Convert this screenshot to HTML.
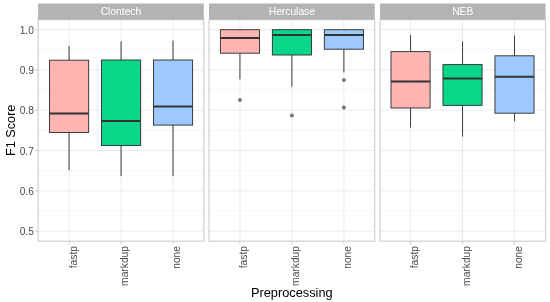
<!DOCTYPE html>
<html><head><meta charset="utf-8"><title>F1 Score by Preprocessing</title>
<style>html,body{margin:0;padding:0;background:#fff}svg text{font-family:"Liberation Sans",Arial,Helvetica,sans-serif}</style></head>
<body>
<svg width="550" height="302" viewBox="0 0 550 302" style="display:block">
<rect width="550" height="302" fill="#fff"/>
<line x1="38.1" x2="203.8" y1="210.98" y2="210.98" stroke="#DEDEDE" stroke-width="0.31"/>
<line x1="38.1" x2="203.8" y1="170.66" y2="170.66" stroke="#DEDEDE" stroke-width="0.31"/>
<line x1="38.1" x2="203.8" y1="130.32" y2="130.32" stroke="#DEDEDE" stroke-width="0.31"/>
<line x1="38.1" x2="203.8" y1="90.00" y2="90.00" stroke="#DEDEDE" stroke-width="0.31"/>
<line x1="38.1" x2="203.8" y1="49.67" y2="49.67" stroke="#DEDEDE" stroke-width="0.31"/>
<line x1="38.1" x2="203.8" y1="231.15" y2="231.15" stroke="#DEDEDE" stroke-width="0.62"/>
<line x1="38.1" x2="203.8" y1="190.82" y2="190.82" stroke="#DEDEDE" stroke-width="0.62"/>
<line x1="38.1" x2="203.8" y1="150.49" y2="150.49" stroke="#DEDEDE" stroke-width="0.62"/>
<line x1="38.1" x2="203.8" y1="110.16" y2="110.16" stroke="#DEDEDE" stroke-width="0.62"/>
<line x1="38.1" x2="203.8" y1="69.83" y2="69.83" stroke="#DEDEDE" stroke-width="0.62"/>
<line x1="38.1" x2="203.8" y1="29.50" y2="29.50" stroke="#DEDEDE" stroke-width="0.62"/>
<line x1="69.10" x2="69.10" y1="19.6" y2="241.2" stroke="#DEDEDE" stroke-width="0.62"/>
<line x1="121.07" x2="121.07" y1="19.6" y2="241.2" stroke="#DEDEDE" stroke-width="0.62"/>
<line x1="173.04" x2="173.04" y1="19.6" y2="241.2" stroke="#DEDEDE" stroke-width="0.62"/>
<line x1="69.10" x2="69.10" y1="46.1" y2="60.2" stroke="#333" stroke-width="0.95"/>
<line x1="69.10" x2="69.10" y1="132.5" y2="170.2" stroke="#333" stroke-width="0.95"/>
<rect x="49.55" y="60.2" width="39.10" height="72.30" fill="#FEAFAC" fill-opacity="0.93" stroke="#333" stroke-width="0.95"/>
<line x1="49.55" x2="88.65" y1="113.6" y2="113.6" stroke="#333" stroke-width="2.0"/>
<line x1="69.10" x2="69.10" y1="241.2" y2="244.39999999999998" stroke="#B3B3B3" stroke-width="0.62"/>
<text transform="translate(76.50,246.00) rotate(-90)" text-anchor="end" font-size="10.25" fill="#4D4D4D">fastp</text>
<line x1="121.07" x2="121.07" y1="41.4" y2="60" stroke="#333" stroke-width="0.95"/>
<line x1="121.07" x2="121.07" y1="145.5" y2="176.1" stroke="#333" stroke-width="0.95"/>
<rect x="101.52" y="60" width="39.10" height="85.50" fill="#00D686" fill-opacity="0.97" stroke="#333" stroke-width="0.95"/>
<line x1="101.52" x2="140.62" y1="121.1" y2="121.1" stroke="#333" stroke-width="2.0"/>
<line x1="121.07" x2="121.07" y1="241.2" y2="244.39999999999998" stroke="#B3B3B3" stroke-width="0.62"/>
<text transform="translate(128.47,246.00) rotate(-90)" text-anchor="end" font-size="10.25" fill="#4D4D4D">markdup</text>
<line x1="173.04" x2="173.04" y1="40.5" y2="60" stroke="#333" stroke-width="0.95"/>
<line x1="173.04" x2="173.04" y1="125.1" y2="176.1" stroke="#333" stroke-width="0.95"/>
<rect x="153.49" y="60" width="39.10" height="65.10" fill="#97C5FE" fill-opacity="0.93" stroke="#333" stroke-width="0.95"/>
<line x1="153.49" x2="192.59" y1="106.4" y2="106.4" stroke="#333" stroke-width="2.0"/>
<line x1="173.04" x2="173.04" y1="241.2" y2="244.39999999999998" stroke="#B3B3B3" stroke-width="0.62"/>
<text transform="translate(180.44,246.00) rotate(-90)" text-anchor="end" font-size="10.25" fill="#4D4D4D">none</text>
<rect x="38.10" y="19.60" width="165.70" height="221.60" fill="none" stroke="#CFCFCF" stroke-width="1.2"/>
<rect x="38.1" y="3.5" width="165.70" height="16.10" fill="#B3B3B3"/>
<text x="120.95" y="15.45" text-anchor="middle" font-size="10.25" fill="#fff">Clontech</text>
<line x1="209.0" x2="374.7" y1="210.98" y2="210.98" stroke="#DEDEDE" stroke-width="0.31"/>
<line x1="209.0" x2="374.7" y1="170.66" y2="170.66" stroke="#DEDEDE" stroke-width="0.31"/>
<line x1="209.0" x2="374.7" y1="130.32" y2="130.32" stroke="#DEDEDE" stroke-width="0.31"/>
<line x1="209.0" x2="374.7" y1="90.00" y2="90.00" stroke="#DEDEDE" stroke-width="0.31"/>
<line x1="209.0" x2="374.7" y1="49.67" y2="49.67" stroke="#DEDEDE" stroke-width="0.31"/>
<line x1="209.0" x2="374.7" y1="231.15" y2="231.15" stroke="#DEDEDE" stroke-width="0.62"/>
<line x1="209.0" x2="374.7" y1="190.82" y2="190.82" stroke="#DEDEDE" stroke-width="0.62"/>
<line x1="209.0" x2="374.7" y1="150.49" y2="150.49" stroke="#DEDEDE" stroke-width="0.62"/>
<line x1="209.0" x2="374.7" y1="110.16" y2="110.16" stroke="#DEDEDE" stroke-width="0.62"/>
<line x1="209.0" x2="374.7" y1="69.83" y2="69.83" stroke="#DEDEDE" stroke-width="0.62"/>
<line x1="209.0" x2="374.7" y1="29.50" y2="29.50" stroke="#DEDEDE" stroke-width="0.62"/>
<line x1="239.95" x2="239.95" y1="19.6" y2="241.2" stroke="#DEDEDE" stroke-width="0.62"/>
<line x1="291.92" x2="291.92" y1="19.6" y2="241.2" stroke="#DEDEDE" stroke-width="0.62"/>
<line x1="343.89" x2="343.89" y1="19.6" y2="241.2" stroke="#DEDEDE" stroke-width="0.62"/>
<circle cx="239.95" cy="99.9" r="2" fill="#777"/>
<line x1="239.95" x2="239.95" y1="29.7" y2="29.7" stroke="#333" stroke-width="0.95"/>
<line x1="239.95" x2="239.95" y1="53.2" y2="79.4" stroke="#333" stroke-width="0.95"/>
<rect x="220.40" y="29.7" width="39.10" height="23.50" fill="#FEAFAC" fill-opacity="0.93" stroke="#333" stroke-width="0.95"/>
<line x1="220.40" x2="259.50" y1="37.9" y2="37.9" stroke="#333" stroke-width="2.0"/>
<line x1="239.95" x2="239.95" y1="241.2" y2="244.39999999999998" stroke="#B3B3B3" stroke-width="0.62"/>
<text transform="translate(247.35,246.00) rotate(-90)" text-anchor="end" font-size="10.25" fill="#4D4D4D">fastp</text>
<circle cx="291.92" cy="115.4" r="2" fill="#777"/>
<line x1="291.92" x2="291.92" y1="29.7" y2="29.7" stroke="#333" stroke-width="0.95"/>
<line x1="291.92" x2="291.92" y1="55.0" y2="86.7" stroke="#333" stroke-width="0.95"/>
<rect x="272.37" y="29.7" width="39.10" height="25.30" fill="#00D686" fill-opacity="0.97" stroke="#333" stroke-width="0.95"/>
<line x1="272.37" x2="311.47" y1="35.0" y2="35.0" stroke="#333" stroke-width="2.0"/>
<line x1="291.92" x2="291.92" y1="241.2" y2="244.39999999999998" stroke="#B3B3B3" stroke-width="0.62"/>
<text transform="translate(299.32,246.00) rotate(-90)" text-anchor="end" font-size="10.25" fill="#4D4D4D">markdup</text>
<circle cx="343.89" cy="80" r="2" fill="#777"/>
<circle cx="343.89" cy="107.6" r="2" fill="#777"/>
<line x1="343.89" x2="343.89" y1="29.7" y2="29.7" stroke="#333" stroke-width="0.95"/>
<line x1="343.89" x2="343.89" y1="49.2" y2="72.4" stroke="#333" stroke-width="0.95"/>
<rect x="324.34" y="29.7" width="39.10" height="19.50" fill="#97C5FE" fill-opacity="0.93" stroke="#333" stroke-width="0.95"/>
<line x1="324.34" x2="363.44" y1="35.0" y2="35.0" stroke="#333" stroke-width="2.0"/>
<line x1="343.89" x2="343.89" y1="241.2" y2="244.39999999999998" stroke="#B3B3B3" stroke-width="0.62"/>
<text transform="translate(351.29,246.00) rotate(-90)" text-anchor="end" font-size="10.25" fill="#4D4D4D">none</text>
<rect x="209.00" y="19.60" width="165.70" height="221.60" fill="none" stroke="#CFCFCF" stroke-width="1.2"/>
<rect x="209.0" y="3.5" width="165.70" height="16.10" fill="#B3B3B3"/>
<text x="291.85" y="15.45" text-anchor="middle" font-size="10.25" fill="#fff">Herculase</text>
<line x1="380.0" x2="545.5" y1="210.98" y2="210.98" stroke="#DEDEDE" stroke-width="0.31"/>
<line x1="380.0" x2="545.5" y1="170.66" y2="170.66" stroke="#DEDEDE" stroke-width="0.31"/>
<line x1="380.0" x2="545.5" y1="130.32" y2="130.32" stroke="#DEDEDE" stroke-width="0.31"/>
<line x1="380.0" x2="545.5" y1="90.00" y2="90.00" stroke="#DEDEDE" stroke-width="0.31"/>
<line x1="380.0" x2="545.5" y1="49.67" y2="49.67" stroke="#DEDEDE" stroke-width="0.31"/>
<line x1="380.0" x2="545.5" y1="231.15" y2="231.15" stroke="#DEDEDE" stroke-width="0.62"/>
<line x1="380.0" x2="545.5" y1="190.82" y2="190.82" stroke="#DEDEDE" stroke-width="0.62"/>
<line x1="380.0" x2="545.5" y1="150.49" y2="150.49" stroke="#DEDEDE" stroke-width="0.62"/>
<line x1="380.0" x2="545.5" y1="110.16" y2="110.16" stroke="#DEDEDE" stroke-width="0.62"/>
<line x1="380.0" x2="545.5" y1="69.83" y2="69.83" stroke="#DEDEDE" stroke-width="0.62"/>
<line x1="380.0" x2="545.5" y1="29.50" y2="29.50" stroke="#DEDEDE" stroke-width="0.62"/>
<line x1="410.55" x2="410.55" y1="19.6" y2="241.2" stroke="#DEDEDE" stroke-width="0.62"/>
<line x1="462.52" x2="462.52" y1="19.6" y2="241.2" stroke="#DEDEDE" stroke-width="0.62"/>
<line x1="514.49" x2="514.49" y1="19.6" y2="241.2" stroke="#DEDEDE" stroke-width="0.62"/>
<line x1="410.55" x2="410.55" y1="35" y2="51.6" stroke="#333" stroke-width="0.95"/>
<line x1="410.55" x2="410.55" y1="108" y2="127.6" stroke="#333" stroke-width="0.95"/>
<rect x="391.00" y="51.6" width="39.10" height="56.40" fill="#FEAFAC" fill-opacity="0.93" stroke="#333" stroke-width="0.95"/>
<line x1="391.00" x2="430.10" y1="81.6" y2="81.6" stroke="#333" stroke-width="2.0"/>
<line x1="410.55" x2="410.55" y1="241.2" y2="244.39999999999998" stroke="#B3B3B3" stroke-width="0.62"/>
<text transform="translate(417.95,246.00) rotate(-90)" text-anchor="end" font-size="10.25" fill="#4D4D4D">fastp</text>
<line x1="462.52" x2="462.52" y1="41.4" y2="64.6" stroke="#333" stroke-width="0.95"/>
<line x1="462.52" x2="462.52" y1="105.4" y2="136.6" stroke="#333" stroke-width="0.95"/>
<rect x="442.97" y="64.6" width="39.10" height="40.80" fill="#00D686" fill-opacity="0.97" stroke="#333" stroke-width="0.95"/>
<line x1="442.97" x2="482.07" y1="78.4" y2="78.4" stroke="#333" stroke-width="2.0"/>
<line x1="462.52" x2="462.52" y1="241.2" y2="244.39999999999998" stroke="#B3B3B3" stroke-width="0.62"/>
<text transform="translate(469.92,246.00) rotate(-90)" text-anchor="end" font-size="10.25" fill="#4D4D4D">markdup</text>
<line x1="514.49" x2="514.49" y1="35.4" y2="55.8" stroke="#333" stroke-width="0.95"/>
<line x1="514.49" x2="514.49" y1="113.2" y2="121.1" stroke="#333" stroke-width="0.95"/>
<rect x="494.94" y="55.8" width="39.10" height="57.40" fill="#97C5FE" fill-opacity="0.93" stroke="#333" stroke-width="0.95"/>
<line x1="494.94" x2="534.04" y1="76.7" y2="76.7" stroke="#333" stroke-width="2.0"/>
<line x1="514.49" x2="514.49" y1="241.2" y2="244.39999999999998" stroke="#B3B3B3" stroke-width="0.62"/>
<text transform="translate(521.89,246.00) rotate(-90)" text-anchor="end" font-size="10.25" fill="#4D4D4D">none</text>
<rect x="380.00" y="19.60" width="165.50" height="221.60" fill="none" stroke="#CFCFCF" stroke-width="1.2"/>
<rect x="380.0" y="3.5" width="165.50" height="16.10" fill="#B3B3B3"/>
<text x="462.75" y="15.45" text-anchor="middle" font-size="10.25" fill="#fff">NEB</text>
<line x1="34.8" x2="38" y1="231.15" y2="231.15" stroke="#B3B3B3" stroke-width="0.62"/>
<text x="33.9" y="235.25" text-anchor="end" font-size="10.25" fill="#4D4D4D">0.5</text>
<line x1="34.8" x2="38" y1="190.82" y2="190.82" stroke="#B3B3B3" stroke-width="0.62"/>
<text x="33.9" y="194.92" text-anchor="end" font-size="10.25" fill="#4D4D4D">0.6</text>
<line x1="34.8" x2="38" y1="150.49" y2="150.49" stroke="#B3B3B3" stroke-width="0.62"/>
<text x="33.9" y="154.59" text-anchor="end" font-size="10.25" fill="#4D4D4D">0.7</text>
<line x1="34.8" x2="38" y1="110.16" y2="110.16" stroke="#B3B3B3" stroke-width="0.62"/>
<text x="33.9" y="114.26" text-anchor="end" font-size="10.25" fill="#4D4D4D">0.8</text>
<line x1="34.8" x2="38" y1="69.83" y2="69.83" stroke="#B3B3B3" stroke-width="0.62"/>
<text x="33.9" y="73.93" text-anchor="end" font-size="10.25" fill="#4D4D4D">0.9</text>
<line x1="34.8" x2="38" y1="29.50" y2="29.50" stroke="#B3B3B3" stroke-width="0.62"/>
<text x="33.9" y="33.60" text-anchor="end" font-size="10.25" fill="#4D4D4D">1.0</text>
<text transform="translate(15.1,130.25) rotate(-90)" text-anchor="middle" font-size="12.65" fill="#000">F1 Score</text>
<text x="291.80" y="296.6" text-anchor="middle" font-size="12.8" fill="#000">Preprocessing</text>
</svg>
</body></html>
